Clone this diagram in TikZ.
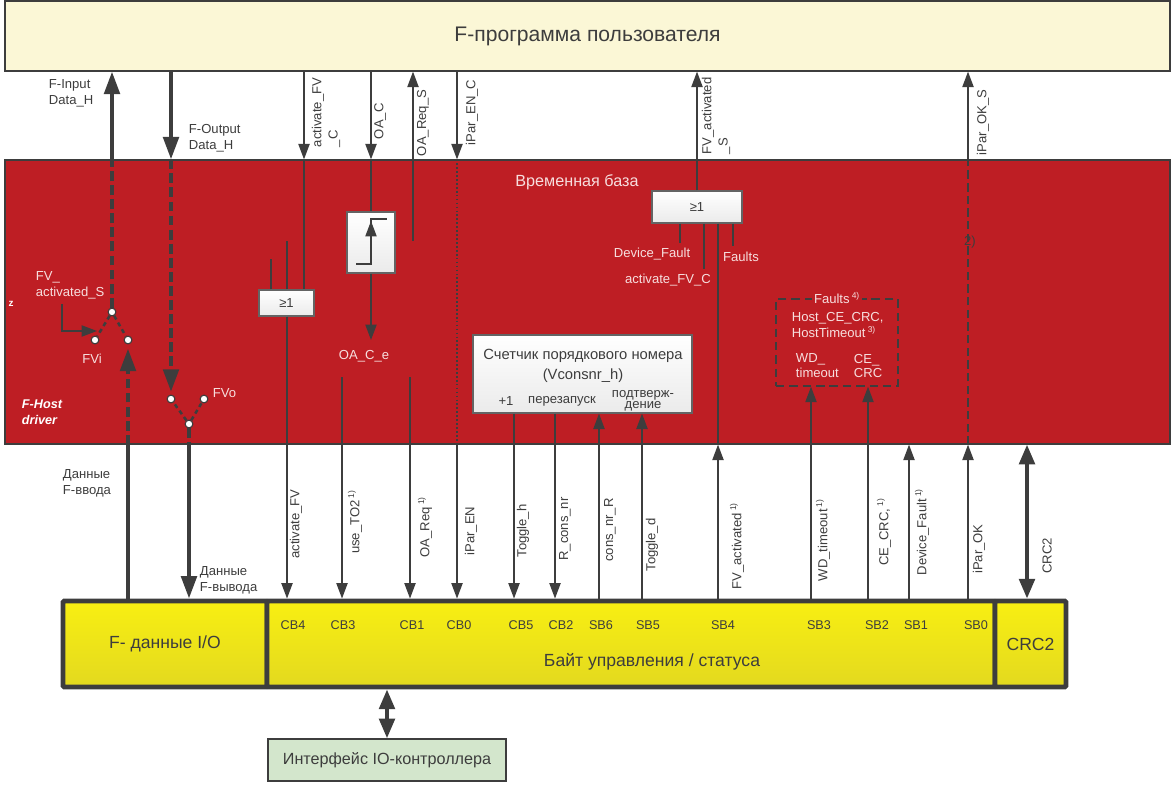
\documentclass[tikz,border=0pt]{standalone}
\usepackage{fontspec}
\setmainfont{Liberation Sans}
\usetikzlibrary{arrows.meta,fit,positioning}
\definecolor{progfill}{HTML}{FBF7D6}
\definecolor{hostred}{HTML}{BE1E24}
\definecolor{ioyeltop}{HTML}{F8EF12}
\definecolor{ioyelbot}{HTML}{E3D91F}
\definecolor{ifgreen}{HTML}{D3E6CC}
\definecolor{linegray}{HTML}{3D3D3D}
\definecolor{pinktext}{HTML}{F7DEDE}
\def\supnote#1{\,\textsuperscript{\fontsize{6}{6}\selectfont #1}}

\tikzset{
	x=0.025cm, y=-0.025cm,
	every node/.style={font=\fontsize{9.3}{11.5}\selectfont, text=linegray},
	ln/.style={draw=linegray, line width=1pt},
	arr/.style={ln, -{Triangle[length=11pt, width=8pt]}},
	fatln/.style={draw=linegray, line width=2.8pt},
	fatarr/.style={fatln, -{Triangle[length=16pt, width=11pt]}},
	fatdash/.style={fatln, dash pattern=on 7pt off 3pt},
	dblarr/.style={fatln, {Triangle[length=14pt, width=11pt]}-{Triangle[length=14pt, width=11pt]}},
	swdash/.style={draw=linegray, line width=1.8pt, dash pattern=on 3pt off 2.5pt},
	sw/.style={circle, draw=linegray, fill=white, line width=0.8pt, inner sep=0pt, minimum size=5.5pt},
	gate/.style={draw=linegray!80, line width=0.8pt, top color=white, bottom color=black!8, inner sep=0pt},
	iobox/.style={draw=linegray, line width=3.5pt, rounded corners=1pt, top color=ioyeltop, bottom color=ioyelbot, inner sep=0pt},
	bigtxt/.style={font=\fontsize{12.5}{14}\selectfont},
	redlbl/.style={text=pinktext},
	vlbl/.style={rotate=90},
	bitlbl/.style={font=\fontsize{9}{10}\selectfont},
	two/.style={align=left, anchor=west},
}

\begin{document}
\begin{tikzpicture}
		%%%%% START %%%%%
		\useasboundingbox (0,0) rectangle (1175,788);
		
		% program, host driver, frame
		\node[draw=linegray, line width=0.9pt, fill=progfill, inner sep=0pt, fit={(5,1) (1170,71)}] (prog) {};
		\node[font=\fontsize{15}{17}\selectfont] (progtxt) at (prog.center) {F-программа пользователя};
		\node[draw=linegray, line width=0.9pt, fill=hostred, inner sep=0pt, fit={(5,160) (1170,444)}] (host) {};
		\node[redlbl, font=\fontsize{11.5}{13}\selectfont] (tbase) at (577,182) {Временная база};
		\node[two, text=white, font=\bfseries\itshape\fontsize{9}{11}\selectfont] (fhost) at (17,412) {F-Host\\driver};
		\node[text=white, font=\bfseries\fontsize{7}{8}\selectfont] (zz) at (11,304) {z};
		
		\node[iobox, fit={(63,601) (267,687)}] (io) {};
		\node[iobox, fit={(267,601) (995,687)}] (stat) {};
		\node[iobox, fit={(995,601) (1066,687)}] (crc) {};
		\node[bigtxt] (iotxt) at (io.center) {F- данные I/O};
		\node[bigtxt] (crctxt) at (crc.center) {CRC2};
		\node[bigtxt] (stattxt) at (652,662) {Байт управления / статуса};
		\foreach \b/\bx in {CB4/293, CB3/343, CB1/412, CB0/459, CB5/521, CB2/561, SB6/601, SB5/648, SB4/723, SB3/819, SB2/877, SB1/916, SB0/976}
			\node[bitlbl] (b\b) at (\bx,625) {\b};
		
		\node[draw=linegray, line width=1pt, fill=ifgreen, inner sep=0pt, fit={(268,739) (506,781)}] (iface) {};
		\node[font=\fontsize{11.5}{13}\selectfont] (ifacetxt) at (iface.center) {Интерфейс IO-контроллера};
		\draw[dblarr] (stat.south -| iface.north) -- (iface.north);
		
		% program <-> driver
		\draw[fatarr] (host.north -| 112,0) -- (prog.south -| 112,0);
		\draw[fatarr] (prog.south -| 171,0) -- (host.north -| 171,0);
		\draw[arr] (prog.south -| 304,0) -- (host.north -| 304,0);
		\draw[arr] (prog.south -| 371,0) -- (host.north -| 371,0);
		\draw[arr] (host.north -| 413,0) -- (prog.south -| 413,0);
		\draw[arr] (prog.south -| 457,0) -- (host.north -| 457,0);
		\draw[arr] (host.north -| 697,0) -- (prog.south -| 697,0);
		\draw[arr] (host.north -| 968,0) -- (prog.south -| 968,0);
		
		\node[two] (lfin) at (44,93) {F-Input\\Data\_H};
		\node[two] (lfout) at (184,138) {F-Output\\Data\_H};
		\node[vlbl, two] (tafc) at (326,152) {activate\_FV\\\_C};
		\node[vlbl, anchor=west] (toac) at (380,144) {OA\_C};
		\node[vlbl, anchor=west] (toar) at (423,161) {OA\_Req\_S};
		\node[vlbl, anchor=west] (tipe) at (472,150) {iPar\_EN\_C};
		\node[vlbl, two] (tfva) at (716,159) {FV\_activated\\\_S};
		\node[vlbl, anchor=west] (tipo) at (983,160) {iPar\_OK\_S};
		
		% F-input switch
		\node[sw] (fvtop) at (112,312) {};
		\node[sw] (fvil) at (95,340) {};
		\node[sw] (fvir) at (128,340) {};
		\draw[fatdash] (fvtop) -- (host.north -| fvtop);
		\draw[swdash] (fvtop) -- (fvil);
		\draw[swdash] (fvtop) -- (fvir);
		\draw[fatln] (io.north -| fvir) -- (host.south -| fvir);
		\draw[fatdash, -{Triangle[length=16pt, width=11pt]}] (host.south -| fvir) -- ([yshift=-3pt]fvir.south);
		\node[redlbl, two] (fvas) at (31,285) {FV\_\\activated\_S};
		\coordinate (fvtip) at (97,331);
		\draw[arr] (fvas.south -| 62,0) |- (fvtip);
		\node[redlbl] (fvilbl) at (92,359) {FVi};
		\node[two] (ldin) at (58,483) {Данные\\F-ввода};
		
		% F-output switch
		\node[sw] (fvoa) at (171,399) {};
		\node[sw] (fvob) at (204,399) {};
		\node[sw] (fvoc) at (189,424) {};
		\draw[fatdash, -{Triangle[length=16pt, width=11pt]}] (host.north -| fvoa) -- ([yshift=2pt]fvoa.north);
		\draw[swdash] (fvoc) -- (fvoa);
		\draw[swdash] (fvoc) -- (fvob);
		\draw[fatdash] (fvoc) -- (host.south -| fvoc);
		\draw[fatarr] (host.south -| fvoc) -- (io.north -| fvoc);
		\node[redlbl, anchor=west] (fvolbl) at (208,393) {FVo};
		\node[two] (ldout) at (195,580) {Данные\\F-вывода};
		
		% activate_FV gate
		\node[gate, fit={(259,290) (314,316)}] (orfv) {};
		\node (orfvtxt) at (orfv.center) {≥1};
		\draw[ln] (host.north -| 304,0) -- (orfv.north -| 304,0);
		\draw[ln] (orfv.north -| 271,0) -- ++(0,-30);
		\draw[ln] (orfv.north -| 287,0) -- ++(0,-48);
		\draw[arr] (orfv.south -| 287,0) -- (stat.north -| 287,0);
		
		% OA edge
		\node[gate, fit={(347,212) (395,273)}] (edge) {};
		\draw[ln] (host.north -| edge.north) -- (edge.north);
		\draw[ln] (356,264) -- (371,264) -- (371,219) -- (387,219);
		\draw[arr] (371,254) -- (371,221);
		\node[redlbl] (oace) at (364,356) {OA\_C\_e};
		\draw[arr] (edge.south) -- (edge.south |- 0,340);
		\draw[ln] (host.north -| 413,0) -- ++(0,82);
		\coordinate (toin) at (342,377);
		\coordinate (oqin) at (410,377);
		\draw[arr] (toin) -- (stat.north -| toin);
		\draw[arr] (oqin) -- (stat.north -| oqin);
		
		% iPar_EN
		\draw[ln, dash pattern=on 1.2pt off 1.6pt] (host.north -| 457,0) -- (host.south -| 457,0);
		\draw[arr] (host.south -| 457,0) -- (stat.north -| 457,0);
		
		% counter
		\node[gate, fit={(473,335) (692,413)}] (cnt) {};
		\node[align=center, font=\fontsize{10.5}{14}\selectfont] (cnttxt) at (583,366) {Счетчик порядкового номера\\(Vconsnr\_h)};
		\node (cplus) at (506,401) {+1};
		\node (crst) at (562,401) {перезапуск};
		\node[align=center, font=\fontsize{9.3}{6.5}\selectfont] (cack) at (643,401) {подтверж-\\дение};
		\draw[arr] (cnt.south -| 514,0) -- (stat.north -| 514,0);
		\draw[arr] (cnt.south -| 555,0) -- (stat.north -| 555,0);
		\draw[arr] (stat.north -| 599,0) -- (cnt.south -| 599,0);
		\draw[arr] (stat.north -| 642,0) -- (cnt.south -| 642,0);
		
		% FV_activated gate
		\node[gate, fit={(652,191) (742,223)}] (orflt) {};
		\node (orflttxt) at (orflt.center) {≥1};
		\draw[ln] (orflt.north -| 697,0) -- (host.north -| 697,0);
		\draw[ln] (orflt.south -| 680,0) -- ++(0,19);
		\draw[ln] (orflt.south -| 704,0) -- ++(0,45);
		\draw[ln] (orflt.south -| 733,0) -- ++(0,22);
		\node[redlbl] (ldf) at (652,254) {Device\_Fault};
		\node[redlbl] (lafc) at (668,280) {activate\_FV\_C};
		\node[redlbl] (lflt) at (741,257) {Faults};
		\draw[ln] (orflt.south -| 718,0) -- (host.south -| 718,0);
		\draw[arr] (stat.north -| 718,0) -- (host.south -| 718,0);
		
		% faults
		\node[draw=linegray, line width=1pt, dash pattern=on 6pt off 3.5pt, inner sep=0pt, fit={(776,299) (898,386)}] (flt) {};
		\node[redlbl, fill=hostred, inner sep=1.5pt] (flttl) at (flt.north) {Faults\supnote{4)}};
		\node[redlbl, two] (fltsrc) at (787,325) {Host\_CE\_CRC,\\HostTimeout\supnote{3)}};
		\node[redlbl, two, font=\fontsize{9.3}{10.6}\selectfont] (fltwd) at (791,366) {WD\_\\timeout};
		\node[redlbl, two, font=\fontsize{9.3}{10.6}\selectfont] (fltce) at (849,366) {CE\_\\CRC};
		\draw[arr] (stat.north -| 811,0) -- (flt.south -| 811,0);
		\draw[arr] (stat.north -| 868,0) -- (flt.south -| 868,0);
		
		\draw[arr] (stat.north -| 909,0) -- (host.south -| 909,0);
		\draw[arr] (stat.north -| 968,0) -- (host.south -| 968,0);
		\draw[ln, dash pattern=on 6pt off 3pt] (host.south -| 968,0) -- (host.north -| 968,0);
		\node (n2) at (970,242) {2)};
		\draw[dblarr] (host.south -| 1027,0) -- (crc.north -| 1027,0);
		
		% bottom signal names
		\foreach \nm/\cx/\cy/\txt in {
			lafv/296/524/{activate\_FV},
			luto/355/522/{use\_TO2\supnote{1)}},
			loar/425/527/{OA\_Req\supnote{1)}},
			lipe/471/531/{iPar\_EN},
			ltgh/523/531/{Toggle\_h},
			lrcn/565/529/{R\_cons\_nr},
			lcnr/610/530/{cons\_nr\_R},
			ltgd/652/545/{Toggle\_d},
			lfva/737/546/{FV\_activated\supnote{1)}},
			lwdt/823/540/{WD\_timeout\supnote{1)}},
			lcec/884/532/{CE\_CRC,\supnote{1)}},
			ldvf/922/532/{Device\_Fault\supnote{1)}},
			lipo/979/549/{iPar\_OK},
			lcrc/1047/556/{CRC2}}
			\node[vlbl] (\nm) at (\cx,\cy) {\txt};
		
		%%%%% END %%%%%
\end{tikzpicture}
\end{document}
